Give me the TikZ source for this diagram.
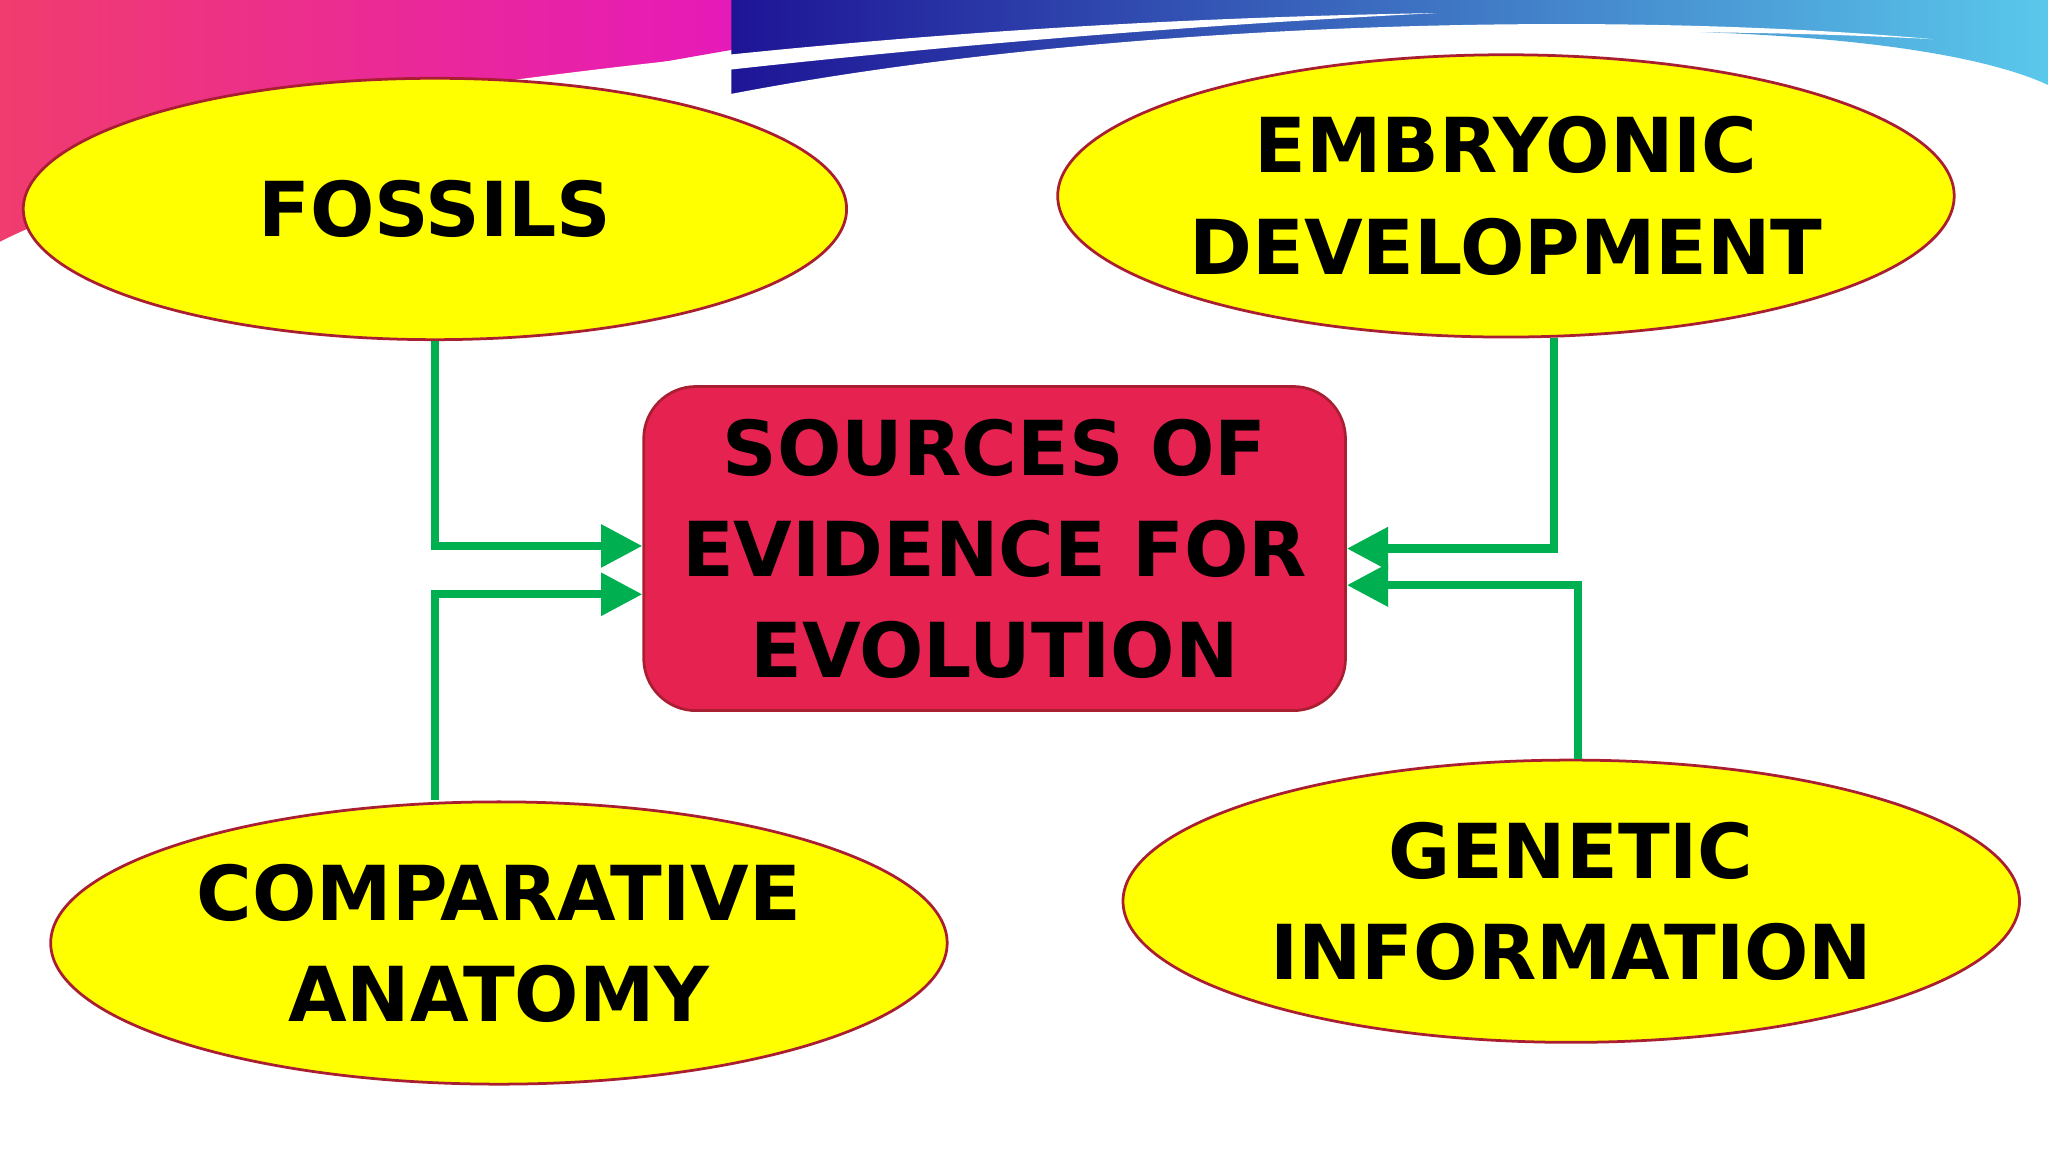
\documentclass[tikz,border=0pt]{standalone}
\usepackage{fontspec}
\setmainfont{DejaVu Sans}
\usetikzlibrary{shapes.geometric,arrows.meta}
\definecolor{ylw}{RGB}{255,255,0}
\definecolor{bord}{RGB}{170,30,50}
\definecolor{crim}{RGB}{230,35,80}
\definecolor{grn}{RGB}{0,176,80}
\definecolor{pk}{RGB}{240,60,110}
\definecolor{mg}{RGB}{225,10,220}
\definecolor{dblue}{RGB}{30,20,150}
\definecolor{cy}{RGB}{90,200,235}
\begin{document}
\begin{tikzpicture}[x=0.01cm,y=-0.01cm,
  ell/.style={ellipse,draw=bord,line width=0.6pt,fill=ylw,inner sep=0pt,
    font=\bfseries\fontsize{16.5}{22}\selectfont,align=center},
  conn/.style={draw=grn,line width=1.8pt,-{Triangle[length=9pt,width=9pt]}}]
\useasboundingbox (0,0) rectangle (1568,882);
\fill[white] (0,0) rectangle (1568,882);
\shade[left color=pk,right color=mg] (0,0) -- (820,0) .. controls (500,40) and (150,110) .. (0,185) -- cycle;
\shade[left color=dblue,right color=cy] (560,0) -- (1568,0) -- (1568,65) .. controls (1460,15) and (1100,0) .. (560,75) -- cycle;
\fill[white] (520,80) .. controls (800,20) and (1200,5) .. (1480,30) .. controls (1200,15) and (800,30) .. (520,90) -- cycle;
\fill[white] (200,90) .. controls (500,40) and (800,15) .. (1100,10) .. controls (800,25) and (500,55) .. (200,100) -- cycle;
\node[ell,minimum width=6.3cm,minimum height=2cm] (fos) at (333,160) {FOSSILS};
\node[ell,minimum width=6.86cm,minimum height=2.16cm] (emb) at (1153,150) {EMBRYONIC\\DEVELOPMENT};
\node[ell,minimum width=6.86cm,minimum height=2.16cm] (cmp) at (382,722) {COMPARATIVE\\ANATOMY};
\node[ell,minimum width=6.86cm,minimum height=2.16cm] (gen) at (1203,690) {GENETIC\\INFORMATION};
\node[draw=bord,line width=0.6pt,fill=crim,rounded corners=0.4cm,minimum width=5.37cm,minimum height=2.48cm,
  font=\bfseries\fontsize{16.5}{22}\selectfont,align=center] (ctr) at (761.5,420) {SOURCES OF\\EVIDENCE FOR\\EVOLUTION};
\coordinate (a1) at (ctr.west |- 0,418);
\coordinate (a2) at (ctr.west |- 0,455);
\coordinate (a3) at (ctr.east |- 0,420);
\coordinate (a4) at (ctr.east |- 0,448);
\coordinate (s3) at (1190,0);
\coordinate (s4) at (1208,0);
\draw[conn] (fos.south) |- (a1);
\draw[conn] (cmp.north -| fos.south) |- (a2);
\draw[conn] (emb.south -| s3) |- (a3);
\draw[conn] (gen.north -| s4) |- (a4);
\end{tikzpicture}
\end{document}
